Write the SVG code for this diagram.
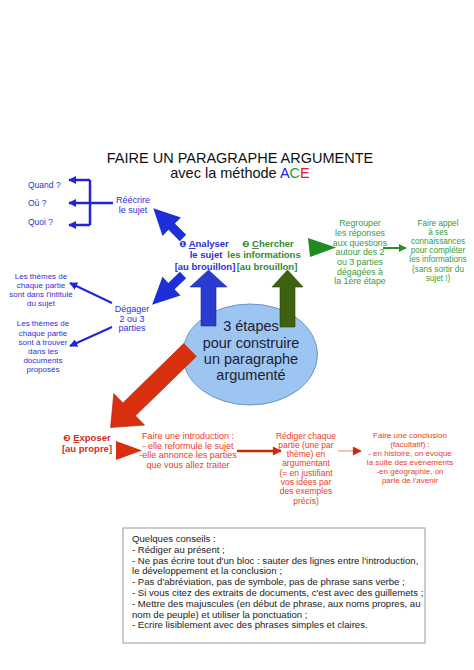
<svg xmlns="http://www.w3.org/2000/svg" width="474" height="670" viewBox="0 0 474 670">
<style>
text{font-family:"Liberation Sans",Arial,sans-serif}
.t{fill:#111}
.b{fill:#2f2fd8}
.bb{fill:#2f2fd8;font-weight:bold}
.g{fill:#3a9a3a}
.gb{fill:#2e8b2e;font-weight:bold}
.r{fill:#e6402a}
.rb{fill:#d0301a;font-weight:bold}
.k{fill:#222}
.num{font-family:"DejaVu Sans",sans-serif}
</style>
<defs>
<marker id="mb" viewBox="0 0 10 10" refX="9" refY="5" markerWidth="8" markerHeight="8" markerUnits="userSpaceOnUse" orient="auto"><path d="M0,0 L10,5 L0,10 z" fill="#2424d6"/></marker>
<marker id="mg" viewBox="0 0 10 10" refX="9" refY="5" markerWidth="8" markerHeight="8" markerUnits="userSpaceOnUse" orient="auto"><path d="M0,0 L10,5 L0,10 z" fill="#2e8b2e"/></marker>
<marker id="mr" viewBox="0 0 10 10" refX="9" refY="5" markerWidth="10" markerHeight="9" markerUnits="userSpaceOnUse" orient="auto"><path d="M0,0 L10,5 L0,10 z" fill="#cc2a10"/></marker>
</defs>

<g id="title">
<text x="240" y="163" font-size="14.5" text-anchor="middle" class="t">FAIRE UN PARAGRAPHE ARGUMENTE</text>
<text x="240" y="178" font-size="14.5" text-anchor="middle" class="t">avec la méthode <tspan fill="#2323dd">A</tspan><tspan fill="#22a022">C</tspan><tspan fill="#dd2222">E</tspan></text>
</g>

<g id="connectors" fill="none">
<path d="M113,203 H90 M90,180 V225" stroke="#2424d6" stroke-width="2.5"/>
<line x1="90" y1="180" x2="69" y2="180" stroke="#2424d6" stroke-width="2.5" marker-end="url(#mb)"/>
<line x1="90" y1="203" x2="69" y2="203" stroke="#2424d6" stroke-width="2.5" marker-end="url(#mb)"/>
<line x1="90" y1="225" x2="69" y2="225" stroke="#2424d6" stroke-width="2.5" marker-end="url(#mb)"/>
<line x1="112" y1="303" x2="70" y2="283" stroke="#2424d6" stroke-width="2" marker-end="url(#mb)"/>
<line x1="112" y1="327" x2="70" y2="346" stroke="#2424d6" stroke-width="2" marker-end="url(#mb)"/>
<line x1="383" y1="248" x2="406" y2="248" stroke="#2e8b2e" stroke-width="2" marker-end="url(#mg)"/>
<line x1="237" y1="451" x2="281" y2="451" stroke="#cc2a10" stroke-width="2.5" marker-end="url(#mr)"/>
<line x1="338" y1="451" x2="361" y2="451" stroke="#f08070" stroke-width="1" marker-end="url(#mr)"/>
<polygon points="308,238 310,257 336,247.5" fill="#1f8c1f" stroke="none"/>
<polygon points="116,441 116,460 142,450.5" fill="#d8300e" stroke="none"/>
<polygon points="0,-4.5 16,-4.5 16,-13 42,0 16,13 16,4.5 0,4.5" transform="translate(183,238) rotate(-135)" fill="#1f2fd8"/>
<polygon points="0,-4.5 16,-4.5 16,-13 43,0 16,13 16,4.5 0,4.5" transform="translate(183,275) rotate(136)" fill="#1f2fd8"/>
</g>

<g id="reecrire">
<text x="133" y="203" font-size="9" text-anchor="middle" class="b">Réécrire</text>
<text x="133" y="213" font-size="9" text-anchor="middle" class="b">le sujet</text>
</g>
<g id="quand"><text x="28" y="188" font-size="8.5" class="b">Quand ?</text></g>
<g id="ou"><text x="28" y="206" font-size="8.5" class="b">Où ?</text></g>
<g id="quoi"><text x="28" y="225" font-size="8.5" class="b">Quoi ?</text></g>

<g id="degager" font-size="9" text-anchor="middle">
<text x="132" y="312" class="b">Dégager</text>
<text x="132" y="322" class="b">2 ou 3</text>
<text x="132" y="331" class="b">parties</text>
</g>
<g id="themes1" font-size="8" text-anchor="middle">
<text x="41" y="279" class="b">Les thèmes de</text>
<text x="41" y="288" class="b">chaque partie</text>
<text x="41" y="297" class="b">sont dans l'intitulé</text>
<text x="41" y="306" class="b">du sujet</text>
</g>
<g id="themes2" font-size="8" text-anchor="middle">
<text x="43" y="326" class="b">Les thèmes de</text>
<text x="43" y="336" class="b">chaque partie</text>
<text x="43" y="345" class="b">sont à trouver</text>
<text x="43" y="354" class="b">dans les</text>
<text x="43" y="363" class="b">documents</text>
<text x="43" y="372" class="b">proposés</text>
</g>

<g id="analyser" font-size="9.5" text-anchor="middle">
<text x="204" y="247" class="bb"><tspan class="num" font-size="8.5">❶</tspan> <tspan text-decoration="underline">A</tspan>nalyser</text>
<text x="206" y="258" class="bb">le sujet</text>
<text x="205" y="270" class="bb">[au brouillon]</text>
</g>
<g id="chercher" font-size="9.5" text-anchor="middle">
<text x="268" y="247" class="gb"><tspan class="num" font-size="8.5">❷</tspan>  <tspan text-decoration="underline">C</tspan>hercher</text>
<text x="264" y="258" class="gb">les informations</text>
<text x="267" y="270" class="gb">[au brouillon]</text>
</g>

<g id="regrouper" font-size="8.8" text-anchor="middle">
<text x="360" y="226" class="g">Regrouper</text>
<text x="360" y="236" class="g">les réponses</text>
<text x="360" y="246" class="g">aux questions</text>
<text x="360" y="255" class="g">autour des 2</text>
<text x="360" y="265" class="g">ou 3 parties</text>
<text x="360" y="275" class="g">dégagées à</text>
<text x="360" y="284" class="g">la 1ère étape</text>
</g>
<g id="appel" font-size="8.2" text-anchor="middle">
<text x="438" y="226" class="g">Faire appel</text>
<text x="438" y="235" class="g">à ses</text>
<text x="438" y="244" class="g">connaissances</text>
<text x="438" y="253" class="g">pour compléter</text>
<text x="438" y="262" class="g">les informations</text>
<text x="438" y="272" class="g">(sans sortir du</text>
<text x="438" y="281" class="g">sujet !)</text>
</g>

<g id="etapes">
<ellipse cx="250" cy="354.5" rx="67.5" ry="50.5" fill="#9cc5f2" stroke="#6f93c4" stroke-width="1"/>
<polygon points="201,326 201,287 190,287 208.5,270 227,287 216,287 216,326" fill="#2b3bd0" stroke="#1d2a9a" stroke-width="0.6"/>
<polygon points="280,327 280,287 272,287 287.5,270 303,287 295,287 295,327" fill="#3f6212" stroke="#2a4508" stroke-width="0.6"/>
<polygon points="0,-9 85,-9 85,-22 111,0 85,22 85,9 0,9" transform="translate(190,350) rotate(135.7)" fill="#d8300e" stroke="#b02208" stroke-width="0.6"/>
<g font-size="14.5" text-anchor="middle" fill="#1c1c30">
<text x="251" y="331">3 étapes</text>
<text x="251" y="348">pour construire</text>
<text x="251" y="364">un paragraphe</text>
<text x="251" y="380">argumenté</text>
</g>
</g>

<g id="exposer" font-size="9.5" text-anchor="middle">
<text x="87" y="441" class="rb"><tspan class="num" font-size="8.5">❸</tspan> <tspan text-decoration="underline">E</tspan>xposer</text>
<text x="87" y="452" class="rb">[au propre]</text>
</g>
<g id="introduction" font-size="9" text-anchor="middle">
<text x="188" y="439" class="r">Faire une introduction :</text>
<text x="188" y="449" class="r">- elle reformule le sujet</text>
<text x="188" y="458" class="r">-elle annonce les parties</text>
<text x="188" y="468" class="r">que vous allez traiter</text>
</g>
<g id="rediger" font-size="8.5" text-anchor="middle">
<text x="306" y="439" class="r">Rédiger chaque</text>
<text x="306" y="448" class="r">partie (une par</text>
<text x="306" y="457" class="r">thème) en</text>
<text x="306" y="466" class="r">argumentant</text>
<text x="306" y="476" class="r">(= en justifiant</text>
<text x="306" y="485" class="r">vos idées par</text>
<text x="306" y="494" class="r">des exemples</text>
<text x="306" y="504" class="r">précis)</text>
</g>
<g id="conclusion" font-size="8" text-anchor="middle">
<text x="410" y="438" class="r">Faire une conclusion</text>
<text x="410" y="447" class="r">(facultatif) :</text>
<text x="410" y="456" class="r">- en histoire, on évoque</text>
<text x="410" y="465" class="r">la suite des évènements</text>
<text x="410" y="474" class="r">-en géographie, on</text>
<text x="410" y="483" class="r">parle de l'avenir</text>
</g>

<g id="conseils">
<rect x="123" y="528" width="302" height="115" fill="#fff" stroke="#9a9a9a" stroke-width="1"/>
<g font-size="9.6" class="k">
<text x="132" y="542">Quelques conseils :</text>
<text x="132" y="552.8">- Rédiger au présent ;</text>
<text x="132" y="563.6">- Ne pas écrire tout d'un bloc : sauter des lignes entre l'introduction,</text>
<text x="132" y="574.4">le développement et la conclusion ;</text>
<text x="132" y="585.2">- Pas d'abréviation, pas de symbole, pas de phrase sans verbe ;</text>
<text x="132" y="596">- Si vous citez des extraits de documents, c'est avec des guillemets ;</text>
<text x="132" y="606.8">- Mettre des majuscules (en début de phrase, aux noms propres, au</text>
<text x="132" y="617.6">nom de peuple) et utiliser la ponctuation ;</text>
<text x="132" y="628.4">- Ecrire lisiblement avec des phrases simples et claires.</text>
</g>
</g>
</svg>
